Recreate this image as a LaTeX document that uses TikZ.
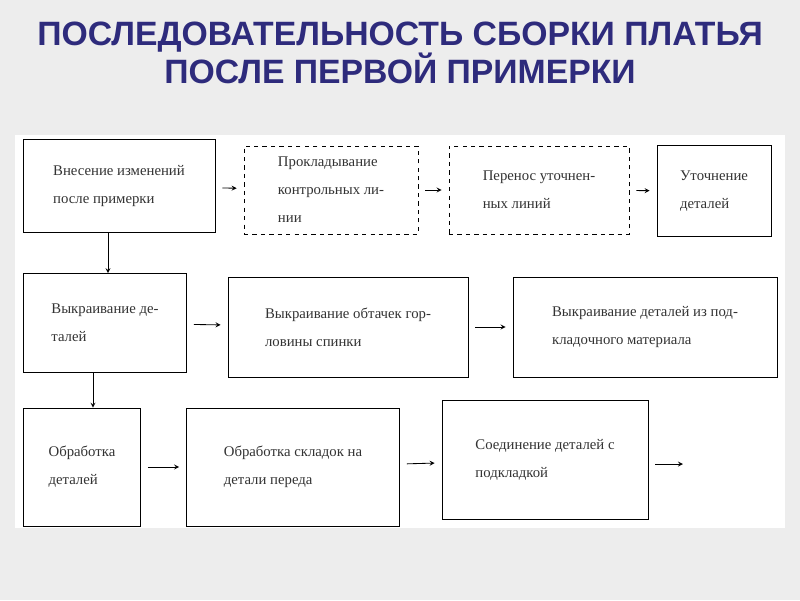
\documentclass[tikz,border=0pt]{standalone}
\usepackage{fontspec}
\setmainfont{Liberation Serif}
\newfontfamily\titlefont{Liberation Sans}
\usetikzlibrary{arrows,positioning}
\definecolor{titleblue}{HTML}{2E2B7C}
\definecolor{panelgray}{HTML}{EDEDED}
\tikzset{
    stepbox/.style={draw,thin,align=left,inner sep=2mm,font=\fontsize{10.5}{20}\selectfont,text=black!80},
    dashbox/.style={stepbox,dashed},
    pre/.style={->,semithick,>=stealth,shorten <=5pt,shorten >=5pt}
}
\begin{document}
\begin{tikzpicture}[x=0.025cm,y=-0.025cm]

                \fill[panelgray] (0,0) rectangle (800,600);
                \fill[white] (15,135) rectangle (785,528);
                \useasboundingbox (0,0) rectangle (800,600);

                \node (title) at (400,53) [align=center,text=titleblue,font=\titlefont\bfseries\fontsize{24}{27}\selectfont]
                    {ПОСЛЕДОВАТЕЛЬНОСТЬ СБОРКИ ПЛАТЬЯ\\ПОСЛЕ ПЕРВОЙ ПРИМЕРКИ};

                % first row
                \node[stepbox,minimum width=4.8cm,minimum height=2.325cm] (change) at (119,186) {Внесение изменений\\после примерки};
                \node[dashbox,minimum width=4.35cm,minimum height=2.2cm] (lining) at (331,190) {Прокладывание\\контрольных ли-\\нии};
                \node[dashbox,minimum width=4.5cm,minimum height=2.2cm] (transfer) at (539,190) {Перенос уточнен-\\ных линий};
                \node[stepbox,minimum width=2.85cm,minimum height=2.275cm] (refine) at (714,191) {Уточнение\\деталей};

                % second row
                \node[stepbox,minimum width=4.075cm,minimum height=2.475cm] (cut) at (105,323) {Выкраивание де-\\талей};
                \node[stepbox,minimum width=6cm,minimum height=2.5cm] (facing) at (348,327) {Выкраивание обтачек гор-\\ловины спинки};
                \node[stepbox,minimum width=6.6cm,minimum height=2.5cm] (lincut) at (645,327) {Выкраивание деталей из под-\\кладочного материала};

                % third row
                \node[stepbox,minimum width=2.925cm,minimum height=2.95cm] (process) at (82,467) {Обработка\\деталей};
                \node[stepbox,minimum width=5.325cm,minimum height=2.95cm] (pleats) at (293,467) {Обработка складок на\\детали переда};
                \node[stepbox,minimum width=5.15cm,minimum height=2.975cm] (join) at (545,460) {Соединение деталей с\\подкладкой};
                \coordinate (next) at (690,464);

                \draw[pre] (change) -- (lining);
                \draw[pre] (lining) -- (transfer);
                \draw[pre] (transfer) -- (refine);
                \draw[->,semithick,>=stealth] (change.south -| 108,0) -- (cut.north -| 108,0);
                \draw[pre] (cut) -- (facing);
                \draw[pre] (facing) -- (lincut);
                \draw[->,semithick,>=stealth] (cut.south -| 93,0) -- (process.north -| 93,0);
                \draw[pre] (process) -- (pleats);
                \draw[pre] (pleats) -- (join);
                \draw[pre] (join.east |- next) -- (next);

\end{tikzpicture}
\end{document}
